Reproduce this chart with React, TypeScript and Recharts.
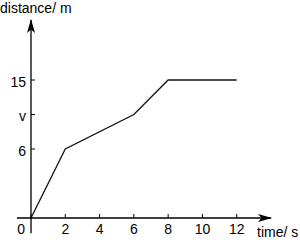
import React from 'react';
import { LineChart, Line, XAxis, YAxis, ReferenceLine, Label } from 'recharts';

// distance-time sketch; the y axis is not to scale, its labels sit on evenly spaced levels
const time = [0, 2, 6, 8, 12];
const distance = ['0', '6', 'v', '15', '15'];
const yLevels = ['0', '', '6', 'v', '15'];
const yTickLabels = ['6', 'v', '15'];
const xTicks = [0, 2, 4, 6, 8, 10, 12];

const data = time.map((t, i) => ({ time: t, level: yLevels.indexOf(distance[i]) }));
const yTicks = yTickLabels.map((l) => yLevels.indexOf(l));

const FONT = '"Liberation Sans", Arial, sans-serif';

const XTick = (props: any) => {
    const { x, y, payload } = props;
    const isOrigin = payload.value === 0;
    return (
        <text x={isOrigin ? x - 6 : x} y={y} dy="0.71em" textAnchor={isOrigin ? 'end' : 'middle'}
            fontSize={14} fontFamily={FONT} fill="#000">
            {payload.value}
        </text>
    );
};

const YTick = (props: any) => {
    const { x, y, payload } = props;
    return (
        <text x={x} y={y + 2} dy="0.355em" textAnchor="end" fontSize={14} fontFamily={FONT} fill="#000">
            {yLevels[payload.value]}
        </text>
    );
};

const arrowLine = (p: any) => (
    <line x1={p.x1} y1={p.y1} x2={p.x2} y2={p.y2} stroke="#000" strokeWidth={1.3} markerEnd="url(#arrowHead)" />
);

export default function App() {
    return (
        <div style={{ position: 'absolute', top: 0, left: 0, width: 300, height: 243, background: '#fff' }}>
            <LineChart width={300} height={243} data={data} margin={{ top: 20, right: 29, bottom: 0, left: 0 }}>
                <defs>
                    <marker id="arrowHead" viewBox="0 0 14 8" refX={13} refY={4} markerWidth={14} markerHeight={8}
                        markerUnits="userSpaceOnUse" orient="auto">
                        <path d="M0,0 L14,4 L0,8 L3.5,4 Z" fill="#000" />
                    </marker>
                </defs>
                <XAxis dataKey="time" type="number" domain={[0, 14]} ticks={xTicks} height={25}
                    axisLine={false} tickSize={-4} tickMargin={10} tick={XTick}
                    tickLine={{ stroke: '#000', strokeWidth: 1 }}>
                    <Label content={({ viewBox }: any) => (
                        <text x={viewBox.x + viewBox.width - 14} y={viewBox.y + 19} fontSize={14} fontFamily={FONT} fill="#000">
                            time/ s
                        </text>
                    )} />
                </XAxis>
                <YAxis type="number" domain={[0, 5.74]} ticks={yTicks} width={31}
                    axisLine={false} tickSize={-4} tickMargin={9} tick={YTick}
                    tickLine={{ stroke: '#000', strokeWidth: 1 }}>
                    <Label content={({ viewBox }: any) => (
                        <text x={viewBox.x} y={viewBox.y - 7} fontSize={14} fontFamily={FONT} fill="#000">
                            distance/ m
                        </text>
                    )} />
                </YAxis>
                <ReferenceLine segment={[{ x: -0.82, y: 0 }, { x: 14, y: 0 }]} ifOverflow="visible" shape={arrowLine} />
                <ReferenceLine segment={[{ x: 0, y: -0.44 }, { x: 0, y: 5.74 }]} ifOverflow="visible" shape={arrowLine} />
                <Line dataKey="level" stroke="#111" strokeWidth={1.3} dot={false} isAnimationActive={false} />
            </LineChart>
        </div>
    );
}
